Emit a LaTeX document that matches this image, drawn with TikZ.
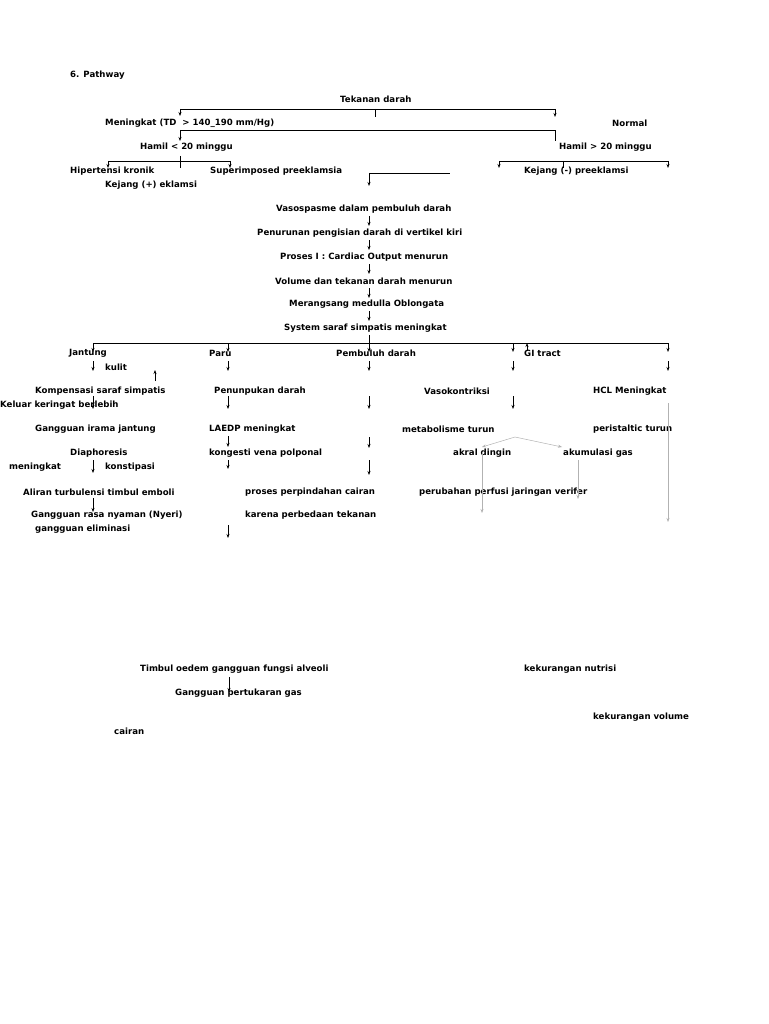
\documentclass[tikz,border=0pt]{standalone}
\usepackage{fontspec}
\setmainfont{DejaVu Sans}
\usetikzlibrary{arrows.meta}
\begin{document}
\begin{tikzpicture}[x=1pt,y=-1pt,
  t/.style={anchor=west,inner sep=0pt,font=\fontsize{8.6}{10}\selectfont\bfseries},
  ln/.style={line width=0.8pt},
  ar/.style={line width=0.8pt,-{Stealth[length=4pt,width=3pt]}},
  gar/.style={line width=0.5pt,gray!60,-{Stealth[length=4pt,width=3pt]}}]
\useasboundingbox (0,0) rectangle (768,1024);
\node[t] (h) at (70,75) {6. Pathway};
\node[t] (td) at (340,99) {Tekanan darah};
\node[t] (mn) at (105,123) {Meningkat (TD\ \ > 140\_190 mm/Hg)};
\node[t] (no) at (612,123) {Normal};
\node[t] (h1) at (140,147) {Hamil < 20 minggu};
\node[t] (h2) at (559,147) {Hamil > 20 minggu};
\node[t] (hk) at (70,171) {Hipertensi kronik};
\node[t] (sp) at (210,171) {Superimposed preeklamsia};
\node[t] (kj) at (524,171) {Kejang (-) preeklamsi};
\node[t] (ke) at (105,185) {Kejang (+) eklamsi};
\node[t] (v1) at (276,209) {Vasospasme dalam pembuluh darah};
\node[t] (v2) at (257,233) {Penurunan pengisian darah di vertikel kiri};
\node[t] (v3) at (280,257) {Proses I : Cardiac Output menurun};
\node[t] (v4) at (275,281) {Volume dan tekanan darah menurun};
\node[t] (v5) at (289,304) {Merangsang medulla Oblongata};
\node[t] (v6) at (284,328) {System saraf simpatis meningkat};
\node[t] (ja) at (69,353) {Jantung};
\node[t] (pa) at (209,353) {Paru};
\node[t] (pd) at (336,353) {Pembuluh darah};
\node[t] (gi) at (524,353) {GI tract};
\node[t] (ku) at (105,367) {kulit};
\node[t] (ks) at (35,391) {Kompensasi saraf simpatis};
\node[t] (pn) at (214,391) {Penunpukan darah};
\node[t] (vk) at (424,391) {Vasokontriksi};
\node[t] (hc) at (593,391) {HCL Meningkat};
\node[t] (kk) at (0,405) {Keluar keringat berlebih};
\node[t] (gj) at (35,429) {Gangguan irama jantung};
\node[t] (la) at (209,429) {LAEDP meningkat};
\node[t] (mt) at (402,429) {metabolisme turun};
\node[t] (pt) at (593,429) {peristaltic turun};
\node[t] (di) at (70,453) {Diaphoresis};
\node[t] (kv) at (209,453) {kongesti vena polponal};
\node[t] (ad) at (453,453) {akral dingin};
\node[t] (ag) at (563,453) {akumulasi gas};
\node[t] (me) at (9,467) {meningkat};
\node[t] (kn) at (105,467) {konstipasi};
\node[t] (al) at (23,492) {Aliran turbulensi timbul emboli};
\node[t] (pp) at (245,492) {proses perpindahan cairan};
\node[t] (pj) at (419,492) {perubahan perfusi jaringan verifer};
\node[t] (gr) at (31,515) {Gangguan rasa nyaman (Nyeri)};
\node[t] (kt) at (245,515) {karena perbedaan tekanan};
\node[t] (ge) at (35,529) {gangguan eliminasi};
\node[t] (to) at (140,669) {Timbul oedem gangguan fungsi alveoli};
\node[t] (kr) at (524,669) {kekurangan nutrisi};
\node[t] (gp) at (175,693) {Gangguan pertukaran gas};
\node[t] (kvl) at (593,717) {kekurangan volume};
\node[t] (ca) at (114,731) {cairan};
% top branching
\draw[ln] (180,109) -- (555,109);
\draw[ln] (375,109) -- (375,117);
\draw[ar] (180,109) -- (180,116);
\draw[ar] (555,109) -- (555,117);
\draw[ln] (555,141) |- (180,130);
\draw[ar] (180,130) -- (180,141);
\draw[ln] (108,161) -- (230,161);
\draw[ln] (180,156) -- (180,168);
\draw[ar] (108,161) -- (108,168);
\draw[ar] (230,161) -- (230,168);
\draw[ln] (369,173) -- (450,173);
\draw[ar] (369,173) -- (369,186);
\draw[ln] (499,161) -- (668,161);
\draw[ln] (563,161) -- (563,168);
\draw[ar] (499,161) -- (499,168);
\draw[ar] (668,161) -- (668,168);
% chain
\foreach \a in {216,240,264,288,311} \draw[ar] (369,\a) -- (369,\a+10);
\draw[ln] (369,335) -- (369,343);
\draw[ln] (93,343) -- (668,343);
\foreach \x in {93,228,369,513,668} \draw[ar] (\x,343) -- (\x,352);
\draw[ar] (527,351) -- (527,343);
\foreach \x in {93,228,369,513,668} \draw[ar] (\x,361) -- (\x,371);
\draw[ar] (155,381) -- (155,370);
\foreach \x in {93,228,369,513} \draw[ar] (\x,396) -- (\x,409);
\draw[gar] (668,403) -- (668,522);
\draw[ar] (228,436) -- (228,447);
\draw[ar] (369,437) -- (369,448);
\draw[gar] (515,437) -- (482,447);
\draw[gar] (515,437) -- (562,447);
\draw[ar] (93,460) -- (93,473);
\draw[ar] (228,460) -- (228,469);
\draw[ar] (369,460) -- (369,475);
\draw[gar] (482,452) -- (482,513);
\draw[gar] (578,460) -- (578,499);
\draw[ar] (93,498) -- (93,512);
\draw[ar] (228,525) -- (228,538);
\draw[ar] (229,677) -- (229,692);
\end{tikzpicture}
\end{document}
